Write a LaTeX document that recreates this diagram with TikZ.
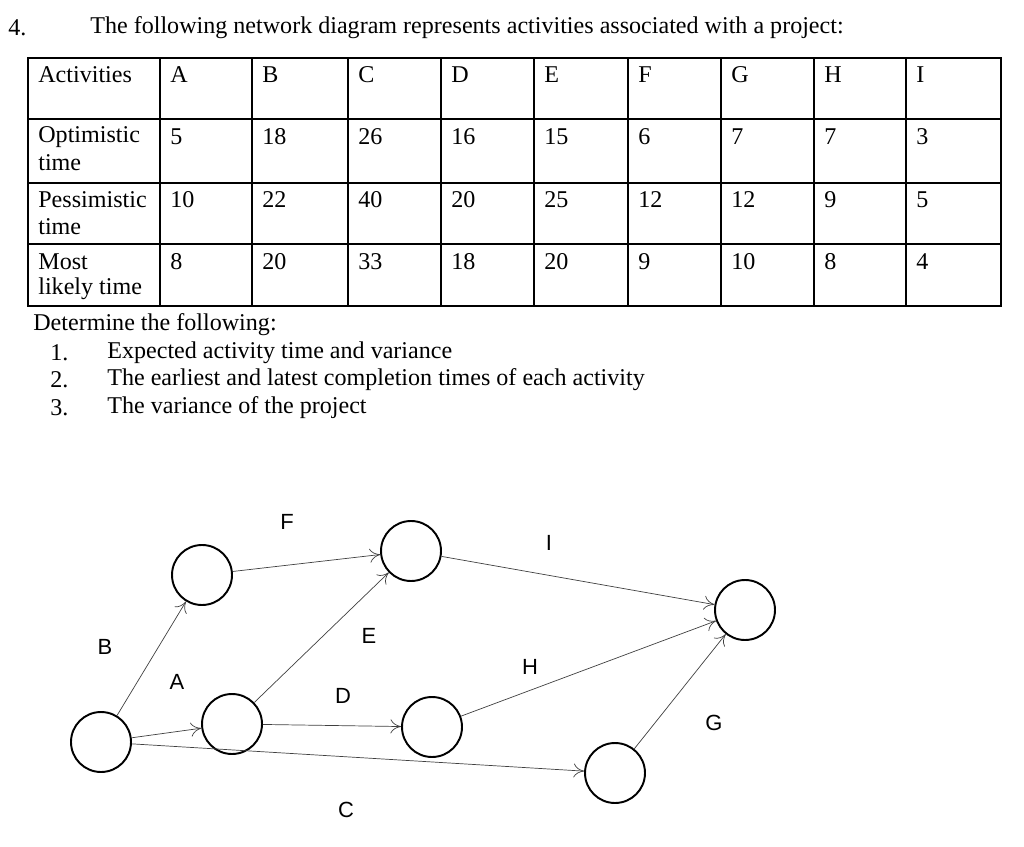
\documentclass[tikz,border=0pt]{standalone}
\usepackage{fontspec}
\setmainfont{Liberation Serif}
\newfontfamily\lblfont{Liberation Sans}
\usetikzlibrary{arrows.meta}
\begin{document}
\begin{tikzpicture}[x=0.02cm,y=-0.02cm,
  txt/.style={font=\fontsize{13.7pt}{15pt}\selectfont,anchor=west,inner sep=0pt},
  ev/.style={circle,draw,line width=1.1pt,minimum size=1.2cm,inner sep=0pt},
  act/.style={draw=black!75,line width=0.4pt,-{To[length=6pt,width=8pt]}},
  lbl/.style={font=\lblfont\fontsize{12.5pt}{14pt}\selectfont,inner sep=0pt}]
\useasboundingbox (0,0) rectangle (1024,847);
\node[txt] (num) at (8,28) {4.};
\node[txt] (title) at (90,28) {The following network diagram represents activities associated with a project:};
% table
\draw[line width=0.6pt] (28,58) rectangle (1001,306);
\foreach \y in {119,183,244} \draw[line width=0.6pt] (28,\y) -- (1001,\y);
\foreach \x in {160,252,348,441,534,628,721,814,906} \draw[line width=0.6pt] (\x,58) -- (\x,306);
\node[txt] (h0) at (38,75) {Activities};
\foreach \x/\t [count=\i] in {160/A,252/B,348/C,441/D,534/E,628/F,721/G,814/H,906/I}
  \node[txt] (h\i) at (\x+10,75) {\t};
\node[txt] (r1a) at (38,137) {Optimistic};
\node[txt] (r1b) at (38,163) {time};
\node[txt] (r2a) at (38,200) {Pessimistic};
\node[txt] (r2b) at (38,227) {time};
\node[txt] (r3a) at (38,262) {Most};
\node[txt] (r3b) at (38,289) {likely time};
\foreach \x/\a/\b/\c [count=\i] in {160/5/10/8,252/18/22/20,348/26/40/33,441/16/20/18,534/15/25/20,628/6/12/9,721/7/12/10,814/7/9/8,906/3/5/4}{
  \node[txt] (o\i) at (\x+10,137) {\a};
  \node[txt] (p\i) at (\x+10,200) {\b};
  \node[txt] (m\i) at (\x+10,262) {\c};
}
\node[txt] (det) at (33,325) {Determine the following:};
\node[txt] (n1l) at (50,353) {1.};
\node[txt] (t1) at (107,353) {Expected activity time and variance};
\node[txt] (n2l) at (50,380) {2.};
\node[txt] (t2) at (107,380) {The earliest and latest completion times of each activity};
\node[txt] (n3l) at (50,408) {3.};
\node[txt] (t3) at (107,408) {The variance of the project};
% network
\node[ev] (e1) at (101,742) {};
\node[ev] (e2) at (202,575) {};
\node[ev] (e3) at (232,724) {};
\node[ev] (e4) at (411,551) {};
\node[ev] (e5) at (432,727) {};
\node[ev] (e6) at (745,610) {};
\node[ev] (e7) at (615,773) {};
\draw[act] (e1) -- (e2);
\draw[act] (e1) -- (e3);
\draw[act] (e1) -- (e7);
\draw[act] (e2) -- (e4);
\draw[act] (e3) -- (e4);
\draw[act] (e3) -- (e5);
\draw[act] (e4) -- (e6);
\draw[act] (e5) -- (e6);
\draw[act] (e7) -- (e6);
\node[lbl] (lF) at (287,522) {F};
\node[lbl] (lI) at (549,543) {I};
\node[lbl] (lB) at (105,647) {B};
\node[lbl] (lA) at (177,682) {A};
\node[lbl] (lE) at (369,636) {E};
\node[lbl] (lH) at (530,667) {H};
\node[lbl] (lD) at (343,696) {D};
\node[lbl] (lG) at (714,723) {G};
\node[lbl] (lC) at (346,810) {C};
\end{tikzpicture}
\end{document}
